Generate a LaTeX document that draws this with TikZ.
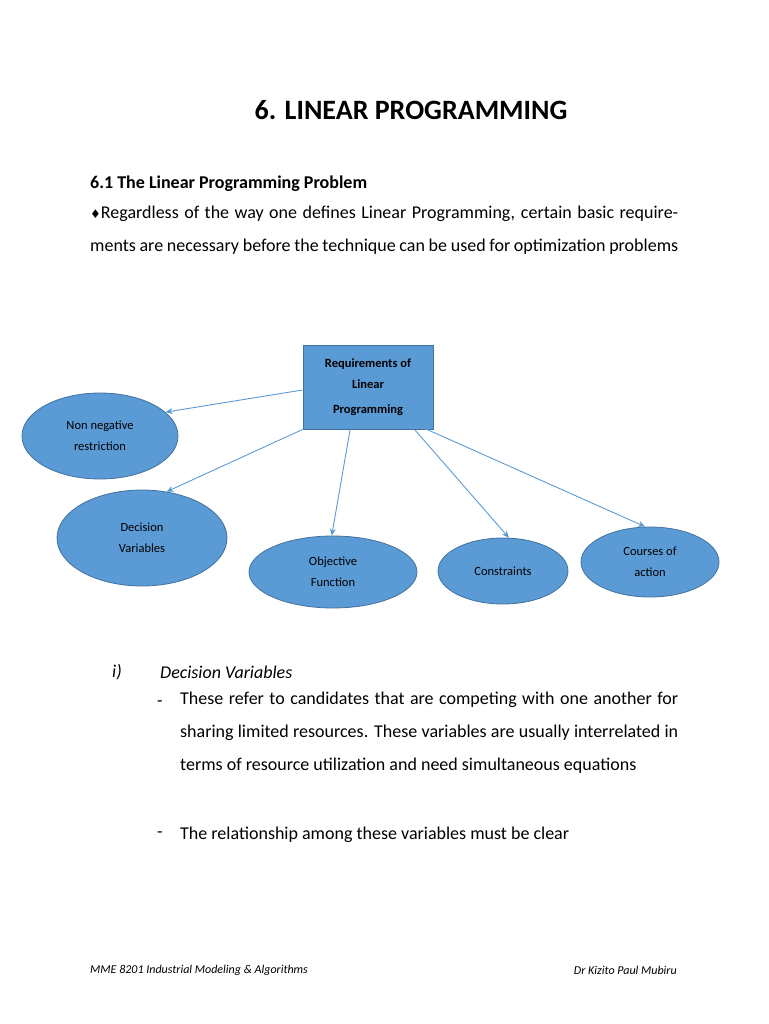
\documentclass[tikz,border=0pt]{standalone}
\usepackage{fontspec}
\setmainfont{Carlito}
\newfontfamily\djv{DejaVu Sans}
\usetikzlibrary{shapes.geometric,arrows.meta}
\definecolor{bfill}{HTML}{5B9BD5}
\definecolor{bdraw}{HTML}{41719C}
\tikzset{
  ell/.style={ellipse,fill=bfill,draw=bdraw,line width=0.8pt,inner sep=0pt,align=center,font=\fontsize{12.5}{21}\selectfont},
  conn/.style={draw=bfill,line width=0.9pt,-{Stealth[length=7pt,width=6pt]}},
  body/.style={anchor=north west,inner sep=0pt,align=justify,font=\fontsize{18}{33}\selectfont}
}
\begin{document}
\begin{tikzpicture}[x=1pt,y=-1pt]
\useasboundingbox (0,0) rectangle (768,1024);
\node[font=\bfseries\fontsize{28}{30}\selectfont] (title) at (411,110) {6. LINEAR PROGRAMMING};
\node[anchor=west,inner sep=0pt,font=\bfseries\fontsize{18}{20}\selectfont] (sec) at (90,184) {6.1 The Linear Programming Problem};
\node[body,text width=588pt] (par) at (90,206) {{\djv\fontsize{12}{12}\selectfont ♦}Regardless of the way one defines Linear Programming, certain basic requirements are necessary before the technique can be used for optimization problems};

\node[rectangle,fill=bfill,draw=bdraw,line width=1pt,minimum width=130pt,minimum height=84pt,align=center,font=\bfseries\fontsize{12.5}{21}\selectfont] (req) at (368,387) {Requirements of\\Linear\\[4pt]Programming};
\node[ell,minimum width=156pt,minimum height=86pt] (nn) at (100,436) {Non negative\\restriction};
\node[ell,minimum width=170pt,minimum height=96pt] (dv) at (142,538) {Decision\\Variables};
\node[ell,minimum width=168pt,minimum height=72pt] (of) at (333,572) {Objective\\Function};
\node[ell,minimum width=130pt,minimum height=66pt] (co) at (503,571) {Constraints};
\node[ell,minimum width=138pt,minimum height=70pt] (ca) at (650,562) {Courses of\\action};

\draw[conn] (req.west|-0,390) -- (nn.20);
\draw[conn] (req.south west) -- (dv.62);
\draw[conn] (350,430) -- (of.92);
\draw[conn] (415,430) -- (co.80);
\draw[conn] (426,429) -- (ca.98);

\node[anchor=west,inner sep=0pt,font=\itshape\fontsize{18}{20}\selectfont] (ii) at (112,672) {i)};
\node[anchor=west,inner sep=0pt,font=\itshape\fontsize{18}{20}\selectfont] (dvh) at (160,672) {Decision Variables};
\node[anchor=west,inner sep=0pt,font=\fontsize{18}{20}\selectfont] (d1) at (157,704) {-};
\node[body,text width=498pt] (p1) at (180,692) {These refer to candidates that are competing with one another for sharing limited resources. These variables are usually interrelated in terms of resource utilization and need simultaneous equations};
\node[anchor=west,inner sep=0pt,font=\fontsize{18}{20}\selectfont] (d2) at (157,835) {-};
\node[anchor=west,inner sep=0pt,font=\fontsize{18}{20}\selectfont] (p2) at (180,835) {The relationship among these variables must be clear};

\node[anchor=west,inner sep=0pt,font=\itshape\fontsize{12}{14}\selectfont] (f1) at (90,970) {MME 8201 Industrial Modeling \& Algorithms};
\node[anchor=east,inner sep=0pt,font=\itshape\fontsize{12}{14}\selectfont] (f2) at (677,970) {Dr Kizito Paul Mubiru};
\end{tikzpicture}
\end{document}
